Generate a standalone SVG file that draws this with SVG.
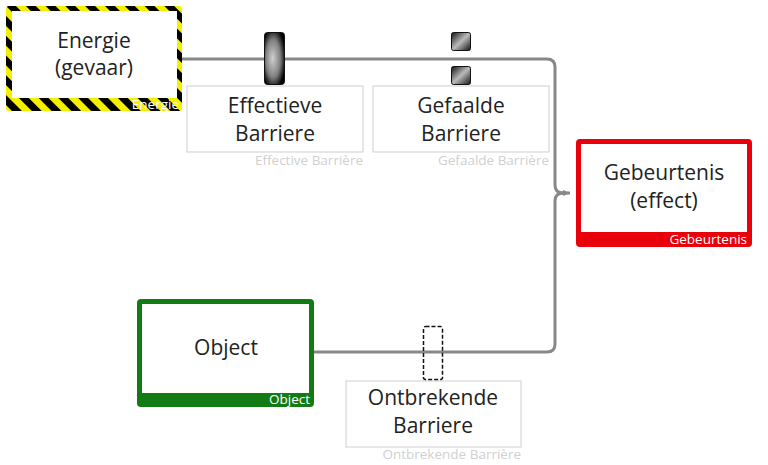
<svg xmlns="http://www.w3.org/2000/svg" width="768" height="465" viewBox="0 0 768 465">
<defs>
  <pattern id="hazard" patternUnits="userSpaceOnUse" width="14" height="14" patternTransform="rotate(-45)">
    <rect x="0" y="0" width="14" height="14" fill="#f5f000"/>
    <rect x="0" y="0" width="7" height="14" fill="#000"/>
  </pattern>
  <radialGradient id="effGrad" cx="0.45" cy="0.5" r="0.6" fx="0.4" fy="0.5">
    <stop offset="0" stop-color="#d0d0d0"/>
    <stop offset="0.6" stop-color="#808080"/>
    <stop offset="1" stop-color="#000"/>
  </radialGradient>
  <linearGradient id="failGrad" x1="0" y1="0" x2="1" y2="1">
    <stop offset="0" stop-color="#111"/>
    <stop offset="0.5" stop-color="#bbb"/>
    <stop offset="1" stop-color="#111"/>
  </linearGradient>
  <marker id="arrow" markerWidth="8" markerHeight="8" refX="7" refY="4" orient="auto" markerUnits="userSpaceOnUse">
    <path d="M0,1 L7,4 L0,7 Z" fill="#888"/>
  </marker>
  <style>
    .main{font-family:"Open Sans","Noto Sans","DejaVu Sans",sans-serif;font-size:21px;fill:#222;text-anchor:middle}
    .tag{font-family:"Open Sans","Noto Sans","DejaVu Sans",sans-serif;font-size:13.5px;text-anchor:end}
    .tagw{fill:#fff}
    .tagg{fill:#d0d0d0}
    .barbox{fill:#fff;stroke:#cfcfcf;stroke-width:1}
    .conn{fill:none;stroke:#888;stroke-width:3;stroke-linejoin:round}
  </style>
</defs>
<rect width="768" height="465" fill="#fff"/>

<g id="connectors">
  <path class="conn" d="M182,59 H547 Q555,59 555,67 V185 Q555,193 563,193"/>
  <path class="conn" d="M314,352 H547 Q555,352 555,344 V201 Q555,193 563,193"/>
  <line x1="561" y1="193" x2="570" y2="193" stroke="#888" stroke-width="3" marker-end="url(#arrow)"/>
</g>

<g id="energie">
  <rect x="6" y="6" width="176" height="105" rx="3" fill="url(#hazard)"/>
  <rect x="12" y="11" width="165" height="87" fill="#fff"/>
  <text class="main" x="94" y="48">Energie</text>
  <text class="main" x="94" y="75">(gevaar)</text>
  <text class="tag tagw" x="179" y="109">Energie</text>
</g>

<g id="effectieve-barriere">
  <rect class="barbox" x="187" y="86" width="176" height="66"/>
  <text class="main" x="275" y="113">Effectieve</text>
  <text class="main" x="275" y="141">Barriere</text>
  <text class="tag tagg" x="363" y="165">Effective Barrière</text>
  <rect x="264.5" y="32.5" width="20" height="52" rx="3" fill="url(#effGrad)" stroke="#111" stroke-width="1"/>
</g>

<g id="gefaalde-barriere">
  <rect class="barbox" x="373" y="86" width="176" height="66"/>
  <text class="main" x="461" y="113">Gefaalde</text>
  <text class="main" x="461" y="141">Barriere</text>
  <text class="tag tagg" x="549" y="165">Gefaalde Barrière</text>
  <rect x="451.5" y="32.5" width="19" height="18" rx="2" fill="url(#failGrad)" stroke="#111" stroke-width="1"/>
  <rect x="451.5" y="66.5" width="19" height="18" rx="2" fill="url(#failGrad)" stroke="#111" stroke-width="1"/>
</g>

<g id="gebeurtenis">
  <rect x="576" y="139" width="176" height="108" rx="4" fill="#e8000b"/>
  <rect x="581" y="144" width="166" height="88" fill="#fff"/>
  <text class="main" x="664" y="180">Gebeurtenis</text>
  <text class="main" x="664" y="208">(effect)</text>
  <text class="tag tagw" x="747" y="244">Gebeurtenis</text>
</g>

<g id="object">
  <rect x="137" y="299" width="177" height="108" rx="4" fill="#137b13"/>
  <rect x="142" y="304" width="167" height="89" fill="#fff"/>
  <text class="main" x="226" y="355">Object</text>
  <text class="tag tagw" x="310" y="404">Object</text>
</g>

<g id="ontbrekende-barriere">
  <rect class="barbox" x="346" y="381" width="175" height="66"/>
  <text class="main" x="433" y="405">Ontbrekende</text>
  <text class="main" x="433" y="433">Barriere</text>
  <text class="tag tagg" x="521" y="459">Ontbrekende Barrière</text>
  <rect x="423.5" y="326.5" width="19" height="53" rx="2" fill="none" stroke="#111" stroke-width="1.5" stroke-dasharray="4,2"/>
</g>
</svg>
